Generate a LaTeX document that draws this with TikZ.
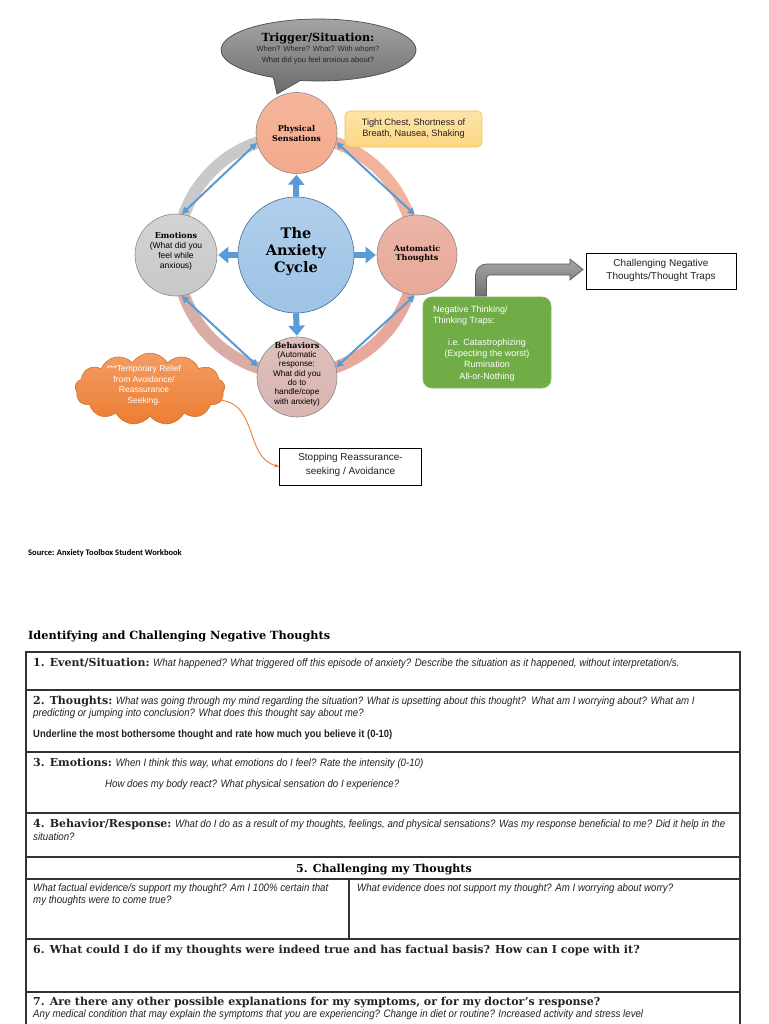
\documentclass[tikz,border=0pt]{standalone}
\usepackage{fontspec}
\setmainfont{Liberation Sans}
\newfontfamily\slab{DejaVu Serif}
\newfontfamily\narrow[FakeStretch=0.9]{Liberation Sans}
\newfontfamily\calib{Carlito}
\usetikzlibrary{arrows.meta,shapes.symbols,shapes.geometric}
\definecolor{blueA}{HTML}{5B9BD5}
\definecolor{ringgray}{HTML}{C9C9C9}
\definecolor{ringsal}{HTML}{F2B39C}
\definecolor{ringpinkL}{HTML}{D9ACA6}
\definecolor{ringpinkR}{HTML}{E6A99B}
\definecolor{physc}{HTML}{F4A98B}
\definecolor{ctrc}{HTML}{9DC3E6}
\definecolor{emoc}{HTML}{C8C8C8}
\definecolor{autc}{HTML}{E8A898}
\definecolor{behc}{HTML}{D8B5B0}
\definecolor{bordc}{HTML}{8A8A8A}
\definecolor{yellowc}{HTML}{FDD884}
\definecolor{yellowb}{HTML}{F4C04A}
\definecolor{greenc}{HTML}{70AD47}
\definecolor{orangec}{HTML}{ED7D31}
\definecolor{tablec}{HTML}{333333}
\definecolor{textc}{HTML}{222222}
\tikzset{
  circ/.style={circle, draw=bordc, line width=0.6pt, inner sep=0pt},
  circtext/.style={align=center, inner sep=0pt, text=black, font=\fontsize{8}{9.4}\selectfont},
  blockarr/.style={draw=blueA, line width=6pt, -{Triangle[length=10pt,width=16pt]}, shorten >=1pt},
  dblarr/.style={draw=blueA, line width=2pt, {Triangle[length=7pt,width=7pt]}-{Triangle[length=7pt,width=7pt]}},
  ring/.style={line width=12pt},
  plainbox/.style={draw=black, line width=0.8pt, fill=white, inner sep=0pt},
  boxtext/.style={align=center, inner sep=0pt, font=\fontsize{10}{13.5}\selectfont, text=textc},
  tbl/.style={anchor=base west, inner sep=0pt, text=textc, font=\narrow\fontsize{10.75}{12}\selectfont\itshape},
  slabhd/.style={font=\slab\bfseries\fontsize{11}{12}\selectfont},
  tline/.style={draw=tablec, line width=1.1pt},
}
\newcommand{\hdr}[1]{{\slab\bfseries\upshape\fontsize{11}{12}\selectfont #1}}
\begin{document}
\begin{tikzpicture}[x=1pt,y=1pt]
\useasboundingbox (0,0) rectangle (768,-1024);
\fill[white] (0,0) rectangle (768,-1024);
\clip (0,0) rectangle (768,-1024);

% ---------- ring arcs ----------
\coordinate (C) at (296,-255);
\draw[ring, ringgray] (C) ++(92:119) arc[start angle=92, end angle=178, radius=119];
\draw[ring, ringsal] (C) ++(2:119) arc[start angle=2, end angle=88, radius=119];
\draw[ring, ringpinkL] (C) ++(182:119) arc[start angle=182, end angle=268, radius=119];
\draw[ring, ringpinkR] (C) ++(272:119) arc[start angle=272, end angle=358, radius=119];

% ---------- speech bubble ----------
\coordinate (bub) at (318.5,-50);
\coordinate (tip) at (277,-94);
\path[draw=black!70, line width=0.7pt, top color=black!35, bottom color=black!58]
  (tip) -- ([shift={(bub)}]259.3:97.5 and 31) arc[start angle=259.3, end angle=602.4, x radius=97.5, y radius=31] -- cycle;
\node[align=center, inner sep=0pt, font=\slab\bfseries\fontsize{11.2}{12}\selectfont] (trig) at (318,-38.5) {Trigger/Situation:};
\node[align=center, inner sep=0pt, font=\fontsize{7.6}{11}\selectfont, text=black!85] (trigq) at (318,-55.5) {When? Where? What? With whom?\\What did you feel anxious about?};

% ---------- circles ----------
\node[circ, minimum size=81pt, top color=physc!85, bottom color=physc] (phys) at (296.5,-133) {};
\node[circ, minimum size=116pt, top color=ctrc!80, bottom color=ctrc, draw=blueA!70!black] (ctr) at (296,-255) {};
\node[circ, minimum size=82pt, top color=emoc!80, bottom color=emoc] (emo) at (176,-255) {};
\node[circ, minimum size=80pt, top color=autc!85, bottom color=autc] (aut) at (417,-255) {};
\node[circ, minimum size=80pt, top color=behc!85, bottom color=behc] (beh) at (297,-377) {};

\node[circtext, font=\slab\bfseries\fontsize{8}{9.5}\selectfont] (physT) at (296.5,-133.5) {Physical\\Sensations};
\node[circtext, font=\slab\bfseries\fontsize{14.5}{17}\selectfont] (ctrT) at (296,-252) {The\\Anxiety\\Cycle};
\node[circtext, font=\fontsize{8.5}{10}\selectfont] (emoT) at (176,-251) {{\slab\bfseries\fontsize{8}{10}\selectfont Emotions}\\(What did you\\feel while\\anxious)};
\node[circtext, font=\slab\bfseries\fontsize{8}{9.5}\selectfont] (autT) at (417,-254) {Automatic\\Thoughts};
\node[circtext, font=\fontsize{8.2}{9.3}\selectfont] (behT) at (297,-374) {{\slab\bfseries\fontsize{8}{9.3}\selectfont Behaviors}\\(Automatic\\response:\\What did you\\do to\\handle/cope\\with anxiety)};

% ---------- blue arrows ----------
\draw[blockarr] (ctr.north) -- (phys.south);
\draw[blockarr] (ctr.west) -- (emo.east);
\draw[blockarr] (ctr.east) -- (aut.west);
\draw[blockarr] (ctr.south) -- (beh.north);
\draw[dblarr] (emo.82) -- (phys.194);
\draw[dblarr] (phys.347) -- (aut.93);
\draw[dblarr] (emo.278) -- (beh.165);
\draw[dblarr] (aut.267) -- (beh.14);

% ---------- yellow box ----------
\node[draw=yellowb, line width=0.7pt, rounded corners=5pt, top color=yellowc!70, bottom color=yellowc, minimum width=137pt, minimum height=36pt, inner sep=0pt] (tight) at (413.5,-129) {};
\node[boxtext, font=\fontsize{9.2}{11.5}\selectfont] (tightT) at (413.5,-128.5) {Tight Chest, Shortness of\\Breath, Nausea, Shaking};

% ---------- green box ----------
\node[draw=greenc!85!white, line width=0.7pt, rounded corners=9pt, fill=greenc, minimum width=128pt, minimum height=91pt, inner sep=0pt] (green) at (487,-342.5) {};
\node[anchor=west, align=left, inner sep=0pt, text=white, font=\fontsize{9}{10.5}\selectfont] (greenA) at (433,-315.5) {Negative Thinking/\\Thinking Traps:};
\node[align=center, inner sep=0pt, text=white, font=\fontsize{9}{11.3}\selectfont] (greenB) at (487,-360) {i.e. Catastrophizing\\(Expecting the worst)\\Rumination\\All-or-Nothing};

% ---------- gray bent arrow ----------
\path[draw=black!65, line width=0.7pt, top color=black!35, bottom color=black!55]
  (475.5,-296) [rounded corners=11pt] -- (475.5,-264) [sharp corners] -- (570,-264) -- (570,-259)
  -- (583,-269.5) -- (570,-280) -- (570,-275) [rounded corners=3pt] -- (486.5,-275) [sharp corners] -- (486.5,-296) -- cycle;

% ---------- challenging box ----------
\node[plainbox, minimum width=150pt, minimum height=36pt] (chal) at (661,-271) {};
\node[boxtext] (chalT) at (661,-270.5) {Challenging Negative\\Thoughts/Thought Traps};

% ---------- cloud ----------
\node[cloud, cloud puffs=13, cloud puff arc=115, aspect=2.1, draw=orangec!85!black, line width=0.5pt, top color=orangec!75!white, bottom color=orangec, minimum width=150pt, minimum height=72pt, inner sep=0pt] (cloud) at (150,-389) {};
\node[align=center, inner sep=0pt, text=white, font=\fontsize{8.5}{10.5}\selectfont] (cloudT) at (144,-385.5) {***Temporary Relief\\from Avoidance/\\Reassurance\\Seeking.};

% ---------- stopping box ----------
\node[plainbox, minimum width=142pt, minimum height=37pt] (stop) at (350.5,-466.5) {};
\node[boxtext] (stopT) at (350.5,-465) {Stopping Reassurance-\\seeking / Avoidance};
\draw[orangec, line width=0.9pt, -{Stealth[length=5pt,width=4pt]}] (cloud.-9) .. controls (258,-405) and (245,-458) .. (stop.west);

% ---------- source ----------
\node[anchor=base west, inner sep=0pt, font=\calib\bfseries\fontsize{8.5}{9}\selectfont] (src) at (28,-555) {Source: Anxiety Toolbox Student Workbook};

% ---------- worksheet ----------
\node[anchor=base west, inner sep=0pt, font=\slab\bfseries\fontsize{11.3}{12}\selectfont] (ttl) at (28,-639) {Identifying and Challenging Negative Thoughts};

\draw[tline] (26,-652) rectangle (740,-1040);
\foreach \yy in {690,752,813,857,879,939,992} { \draw[tline] (26,-\yy) -- (740,-\yy); }
\draw[tline] (349,-879) -- (349,-939);

\node[tbl] (r1) at (33,-666) {\hdr{1. Event/Situation:} What happened? What triggered off this episode of anxiety? Describe the situation as it happened, without interpretation/s.};
\node[tbl] (r2a) at (33,-704) {\hdr{2. Thoughts:} What was going through my mind regarding the situation? What is upsetting about this thought?\ \ What am I worrying about? What am I};
\node[tbl] (r2b) at (33,-716) {predicting or jumping into conclusion? What does this thought say about me?};
\node[tbl, font=\narrow\bfseries\fontsize{10.5}{12}\selectfont] (r2c) at (33,-737) {Underline the most bothersome thought and rate how much you believe it (0-10)};
\node[tbl] (r3a) at (33,-766) {\hdr{3. Emotions:} When I think this way, what emotions do I feel? Rate the intensity (0-10)};
\node[tbl] (r3b) at (105,-787) {How does my body react? What physical sensation do I experience?};
\node[tbl] (r4a) at (33,-827) {\hdr{4. Behavior/Response:} What do I do as a result of my thoughts, feelings, and physical sensations? Was my response beneficial to me? Did it help in the};
\node[tbl] (r4b) at (33,-840) {situation?};
\node[anchor=base, inner sep=0pt, slabhd] (r5) at (384,-872) {5. Challenging my Thoughts};
\node[tbl] (r5a) at (33,-891) {What factual evidence/s support my thought? Am I 100\% certain that};
\node[tbl] (r5b) at (33,-903) {my thoughts were to come true?};
\node[tbl] (r5c) at (357,-891) {What evidence does not support my thought? Am I worrying about worry?};
\node[tbl, slabhd] (r6) at (33,-953) {6. What could I do if my thoughts were indeed true and has factual basis? How can I cope with it?};
\node[tbl, slabhd] (r7a) at (33,-1005) {7. Are there any other possible explanations for my symptoms, or for my doctor’s response?};
\node[tbl] (r7b) at (33,-1017) {Any medical condition that may explain the symptoms that you are experiencing? Change in diet or routine? Increased activity and stress level};
\end{tikzpicture}
\end{document}
